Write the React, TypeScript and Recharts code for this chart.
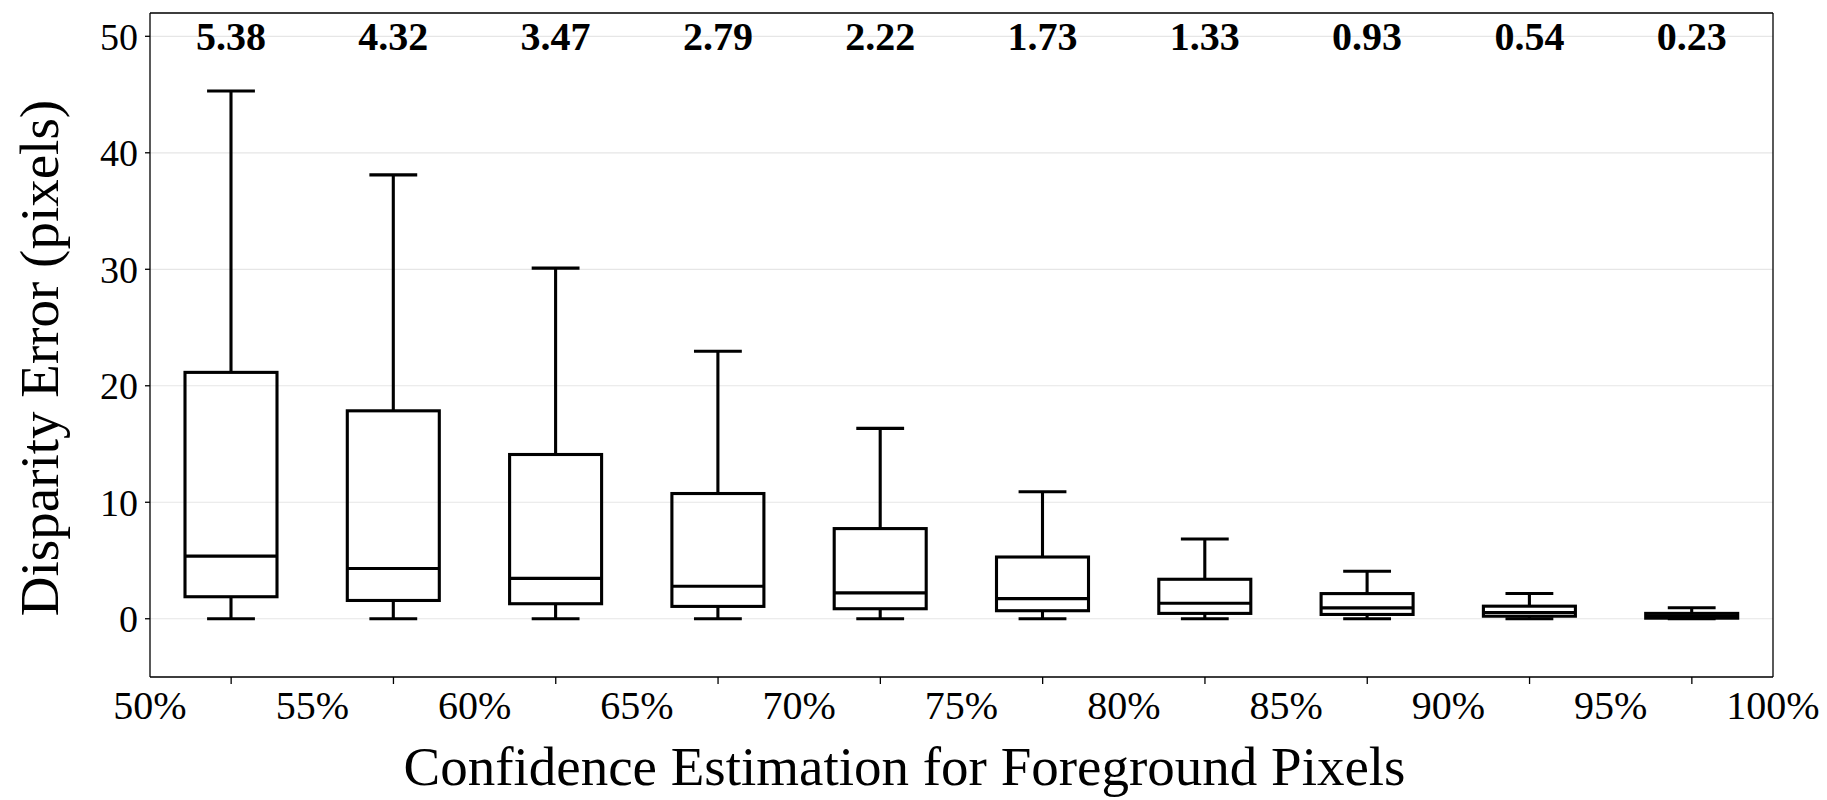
import { ComposedChart, Bar, XAxis, YAxis, CartesianGrid, Label } from 'recharts';

const CATEGORIES = [
  '50-55%', '55-60%', '60-65%', '65-70%', '70-75%',
  '75-80%', '80-85%', '85-90%', '90-95%', '95-100%',
];
const TICK_LABELS = ['50%', '55%', '60%', '65%', '70%', '75%', '80%', '85%', '90%', '95%', '100%'];
const WHISKER_LOW = [0, 0, 0, 0, 0, 0, 0, 0, 0, 0];
const Q1 = [1.89, 1.57, 1.29, 1.06, 0.86, 0.69, 0.46, 0.37, 0.22, 0.05];
const MEDIAN = [5.38, 4.32, 3.47, 2.79, 2.22, 1.73, 1.33, 0.93, 0.54, 0.23];
const Q3 = [21.15, 17.85, 14.1, 10.75, 7.74, 5.3, 3.39, 2.16, 1.08, 0.46];
const WHISKER_HIGH = [45.3, 38.1, 30.1, 22.96, 16.34, 10.9, 6.84, 4.08, 2.17, 0.95];
const Y_TICKS = [0, 10, 20, 30, 40, 50];

const data = CATEGORIES.map((name, i) => ({
  name,
  low: WHISKER_LOW[i],
  q1: Q1[i],
  median: MEDIAN[i],
  q3: Q3[i],
  high: WHISKER_HIGH[i],
}));

const FONT = 'Liberation Serif, Times New Roman, serif';
const WIDTH = 1819;
const HEIGHT = 792;
const Y_AXIS_W = 142;
const MARGIN = { top: 4, right: 53, bottom: 0, left: 0 };
const BAND = (WIDTH - Y_AXIS_W - MARGIN.right - 1) / CATEGORIES.length;
const LABEL_LEVEL = 50; // median labels sit on the 50 gridline

const BoxShape = (props: any) => {
  const { x, y, width, height, payload } = props;
  const top = Math.min(y, y + height);
  const bottom = Math.max(y, y + height);
  const span = payload.high - payload.low;
  const toPx = (v: number) => bottom - ((v - payload.low) / span) * (bottom - top);
  const cx = x + width / 2;
  const cap = width * 0.26;
  return (
    <g>
      <g stroke="#000" strokeWidth={3.1} fill="none">
        <line x1={cx} x2={cx} y1={toPx(payload.high)} y2={toPx(payload.q3)} />
        <line x1={cx} x2={cx} y1={toPx(payload.q1)} y2={toPx(payload.low)} />
        <line x1={cx - cap} x2={cx + cap} y1={toPx(payload.high)} y2={toPx(payload.high)} />
        <line x1={cx - cap} x2={cx + cap} y1={toPx(payload.low)} y2={toPx(payload.low)} />
        <rect x={x} y={toPx(payload.q3)} width={width} height={toPx(payload.q1) - toPx(payload.q3)} />
        <line x1={x} x2={x + width} y1={toPx(payload.median)} y2={toPx(payload.median)} />
      </g>
      <text
        x={cx}
        y={toPx(LABEL_LEVEL)}
        dy={14}
        textAnchor="middle"
        fontFamily={FONT}
        fontSize={40}
        fontWeight="bold"
        fill="#000"
      >
        {payload.median.toFixed(2)}
      </text>
    </g>
  );
};

const XTick = (props: any) => {
  const { x, y, index } = props;
  const txt = { fontFamily: FONT, fontSize: 40, fill: '#000', textAnchor: 'middle' as const };
  return (
    <g>
      <text x={x - BAND / 2} y={y} dy="0.71em" {...txt}>
        {TICK_LABELS[index]}
      </text>
      {index === CATEGORIES.length - 1 && (
        <text x={x + BAND / 2} y={y} dy="0.71em" {...txt}>
          {TICK_LABELS[index + 1]}
        </text>
      )}
    </g>
  );
};

export default function App() {
  return (
    <div style={{ width: WIDTH, height: HEIGHT, background: '#fff' }}>
      <ComposedChart width={WIDTH} height={HEIGHT} data={data} margin={MARGIN}>
        <CartesianGrid vertical={false} stroke="#e6e6e6" strokeWidth={1.2} />
        <XAxis
          dataKey="name"
          height={HEIGHT - 669}
          interval={0}
          tick={<XTick />}
          tickSize={7}
          tickMargin={7}
          tickLine={{ stroke: '#000', strokeWidth: 1.3 }}
          axisLine={{ stroke: '#000', strokeWidth: 1.3 }}
        >
          <Label
            value="Confidence Estimation for Foreground Pixels"
            position="center"
            dx={-57}
            dy={27}
            style={{ fontFamily: FONT, fontSize: 55, fill: '#000' }}
          />
        </XAxis>
        <XAxis
          xAxisId="top"
          dataKey="name"
          orientation="top"
          height={1}
          tick={false}
          tickLine={false}
          axisLine={{ stroke: '#000', strokeWidth: 1.3 }}
        />
        <YAxis
          type="number"
          domain={[-5, 52]}
          ticks={Y_TICKS}
          width={Y_AXIS_W}
          tickSize={5}
          tickMargin={7}
          tick={{ fontFamily: FONT, fontSize: 38, fill: '#000' }}
          tickLine={{ stroke: '#000', strokeWidth: 1.3 }}
          axisLine={{ stroke: '#000', strokeWidth: 1.3 }}
          allowDataOverflow
        >
          <Label
            value="Disparity Error (pixels)"
            angle={-90}
            position="center"
            dx={-41}
            dy={13}
            style={{ fontFamily: FONT, fontSize: 55, fill: '#000', textAnchor: 'middle' }}
          />
        </YAxis>
        <YAxis
          yAxisId="right"
          orientation="right"
          width={1}
          tick={false}
          tickLine={false}
          axisLine={{ stroke: '#000', strokeWidth: 1.3 }}
        />
        <Bar
          dataKey={(d: any) => [d.low, d.high]}
          barSize={92}
          shape={<BoxShape />}
          isAnimationActive={false}
        />
      </ComposedChart>
    </div>
  );
}
